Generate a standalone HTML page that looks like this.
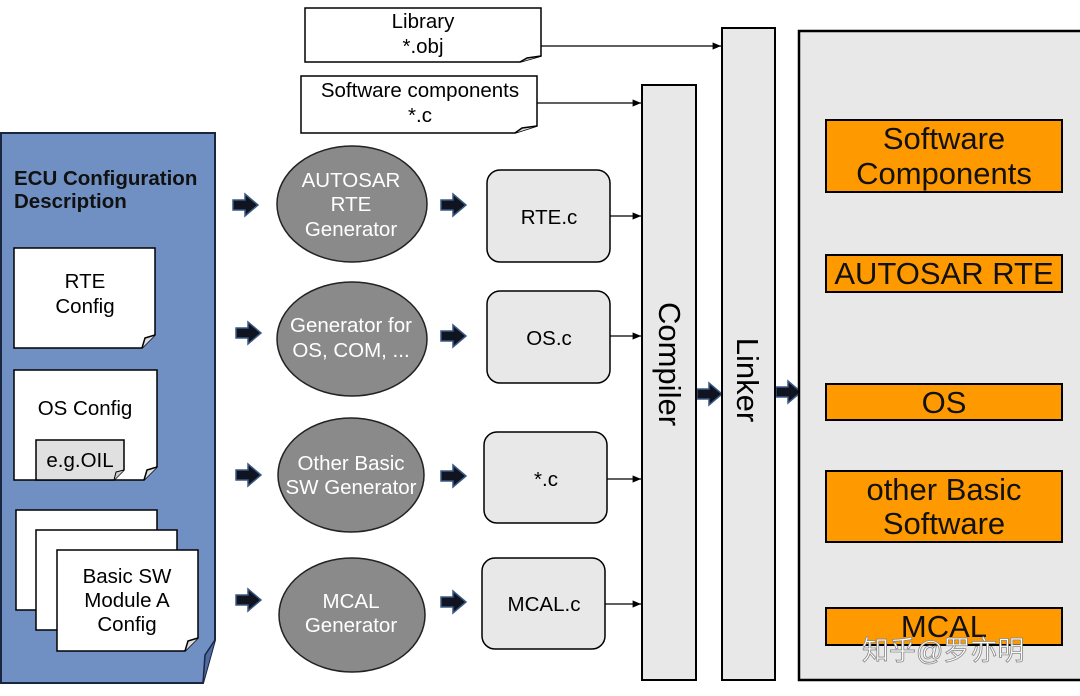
<!DOCTYPE html>
<html><head><meta charset="utf-8"><style>
html,body{margin:0;padding:0;background:#fff;}
svg{display:block;}
text{font-family:"Liberation Sans",Arial,sans-serif;}
</style></head><body>
<svg width="1080" height="696" viewBox="0 0 1080 696" xmlns="http://www.w3.org/2000/svg">
<defs>
<path id="ba" d="M0,-5 L12,-5 L12,-11 L25,0 L12,11 L12,5 L0,5 Z" fill="#0f1420" stroke="#3c5a86" stroke-width="1.5"/>
<marker id="ah" markerWidth="8" markerHeight="8" refX="7" refY="3" orient="auto"><path d="M0,0 L7,3 L0,6 Z" fill="#000"/></marker>
</defs>

<path d="M1,133 L215,133 L215,640 L203,683 L1,683 Z" fill="#7090c4" stroke="#1a2540" stroke-width="2"/>
<path d="M203,683 L205,655 L215,640" fill="#4e6aa0" stroke="#1a2540" stroke-width="1.5"/>
<text x="14" y="185" font-size="20.5" font-weight="bold" fill="#111">ECU Configuration</text>
<text x="14" y="208" font-size="20.5" font-weight="bold" fill="#111">Description</text>

<g stroke="#000" stroke-width="1.5" fill="#fff">
<path d="M14,248 L155,248 L155,335 L142,348 L14,348 Z"/>
<path d="M142,348 L145,338 L155,335" fill="#ddd"/>
<path d="M14,370 L157,370 L157,467 L144,480 L14,480 Z"/>
<path d="M144,480 L147,470 L157,467" fill="#ddd"/>
</g>
<g font-size="20.5" text-anchor="middle">
<text x="85" y="288">RTE</text>
<text x="85" y="313">Config</text>
<text x="85" y="415">OS Config</text>
</g>
<path d="M36,440 L124,440 L124,470 L114,480 L36,480 Z" fill="#e0e0e0" stroke="#000" stroke-width="1.5"/>
<path d="M114,480 L116,472 L124,470" fill="#ccc" stroke="#000" stroke-width="1"/>
<text x="80" y="467" font-size="20.5" text-anchor="middle">e.g.OIL</text>

<g stroke="#000" stroke-width="1.5" fill="#fff">
<rect x="16" y="510" width="141" height="100"/>
<rect x="36" y="530" width="141" height="100"/>
<path d="M57,550 L198,550 L198,638 L185,651 L57,651 Z"/>
<path d="M185,651 L188,641 L198,638" fill="#ddd"/>
</g>
<g font-size="20.5" text-anchor="middle">
<text x="127" y="583">Basic SW</text>
<text x="127" y="607">Module A</text>
<text x="127" y="631">Config</text>
</g>

<use href="#ba" x="233" y="205"/>
<use href="#ba" x="236" y="333"/>
<use href="#ba" x="236" y="475"/>
<use href="#ba" x="236" y="600"/>
<use href="#ba" x="441" y="205"/>
<use href="#ba" x="441" y="336"/>
<use href="#ba" x="441" y="476"/>
<use href="#ba" x="441" y="602"/>
<use href="#ba" x="697" y="394"/>
<use href="#ba" x="776" y="392"/>

<g fill="#8a8a8a" stroke="#222" stroke-width="1.5">
<ellipse cx="352" cy="204" rx="75" ry="58"/>
<ellipse cx="352" cy="339" rx="75" ry="57"/>
<ellipse cx="351" cy="475" rx="73" ry="57"/>
<ellipse cx="352" cy="615" rx="73" ry="57"/>
</g>
<g fill="#fff" font-size="20.5" text-anchor="middle">
<text x="351" y="187">AUTOSAR</text>
<text x="351" y="211">RTE</text>
<text x="351" y="236">Generator</text>
<text x="351" y="332">Generator for</text>
<text x="351" y="357">OS, COM, ...</text>
<text x="351" y="470">Other Basic</text>
<text x="351" y="494">SW Generator</text>
<text x="351" y="608">MCAL</text>
<text x="351" y="632">Generator</text>
</g>

<g fill="#e8e8e8" stroke="#000" stroke-width="1.5">
<rect x="487" y="170" width="123" height="92" rx="13"/>
<rect x="487" y="291" width="123" height="92" rx="13"/>
<rect x="484" y="432" width="123" height="91" rx="13"/>
<rect x="482" y="558" width="123" height="91" rx="13"/>
</g>
<g font-size="20.5" text-anchor="middle">
<text x="549" y="224">RTE.c</text>
<text x="549" y="345">OS.c</text>
<text x="546" y="486">*.c</text>
<text x="544" y="611">MCAL.c</text>
</g>
<g stroke="#000" stroke-width="1.2" marker-end="url(#ah)">
<line x1="610" y1="216" x2="641" y2="216"/>
<line x1="610" y1="336" x2="641" y2="336"/>
<line x1="607" y1="479" x2="641" y2="479"/>
<line x1="605" y1="604" x2="641" y2="604"/>
<line x1="537" y1="103" x2="641" y2="103"/>
<line x1="541" y1="46" x2="721" y2="46"/>
</g>

<g stroke="#000" stroke-width="1.5" fill="#fff">
<path d="M305,8 L541,8 L541,56 L520,62 L305,62 Z"/>
<path d="M520,62 L527,58 L541,56" fill="#ddd"/>
<path d="M301,76 L537,76 L537,126 L515,133 L301,133 Z"/>
<path d="M515,133 L522,128 L537,126" fill="#ddd"/>
</g>
<g font-size="20.5" text-anchor="middle">
<text x="423" y="28">Library</text>
<text x="423" y="53">*.obj</text>
<text x="420" y="97">Software components</text>
<text x="420" y="122">*.c</text>
</g>

<rect x="642" y="85" width="54" height="595" fill="#e8e8e8" stroke="#000" stroke-width="2"/>
<rect x="722" y="28" width="53" height="652" fill="#e8e8e8" stroke="#000" stroke-width="2"/>
<text transform="translate(659,364) rotate(90)" font-size="31" text-anchor="middle">Compiler</text>
<text transform="translate(737,380) rotate(90)" font-size="31" text-anchor="middle">Linker</text>

<rect x="799" y="31" width="290" height="649" fill="#e8e8e8" stroke="#000" stroke-width="2.5"/>
<g fill="#ff9900" stroke="#000" stroke-width="2">
<rect x="826" y="120" width="236" height="72"/>
<rect x="826" y="255" width="236" height="37"/>
<rect x="826" y="384" width="236" height="36"/>
<rect x="826" y="471" width="236" height="71"/>
<rect x="826" y="608" width="236" height="37"/>
</g>
<g font-size="31" text-anchor="middle" fill="#111">
<text x="944" y="149">Software</text>
<text x="944" y="184">Components</text>
<text x="944" y="284">AUTOSAR RTE</text>
<text x="944" y="413">OS</text>
<text x="944" y="500">other Basic</text>
<text x="944" y="534">Software</text>
<text x="944" y="637">MCAL</text>
</g>
<text x="862" y="660" font-size="27" fill="#fff" stroke="#888" stroke-width="0.8" font-family="'Liberation Sans','Noto Sans CJK SC',sans-serif">知乎@罗亦明</text>
</svg>
</body></html>
